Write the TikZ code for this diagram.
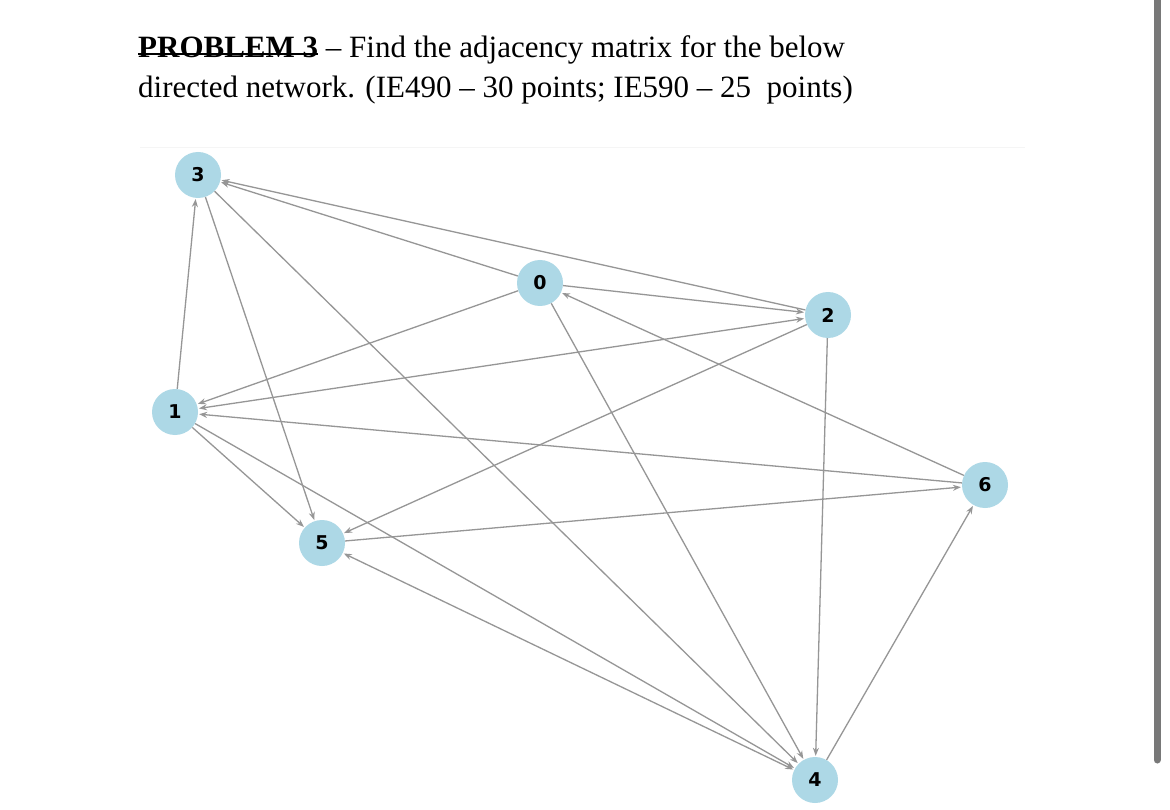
\documentclass[tikz,border=0pt]{standalone}
\usepackage{fontspec}
\setmainfont{Liberation Serif}
\newfontfamily\nodefont{DejaVu Sans}
\usetikzlibrary{arrows.meta}
\definecolor{nodeblue}{RGB}{173,216,230}
\definecolor{edgegray}{RGB}{150,150,150}
\definecolor{bargray}{RGB}{120,120,120}
\begin{document}
\begin{tikzpicture}[x=1pt,y=-1pt,
  vert/.style={circle,fill=nodeblue,minimum size=46pt,inner sep=0pt,font=\nodefont\bfseries\fontsize{19}{19}\selectfont},
  edge/.style={draw=edgegray,line width=1.3pt,-{Stealth[length=8pt,width=6pt]},shorten >=1pt},
  bedge/.style={edge,{Stealth[length=8pt,width=6pt]}-{Stealth[length=8pt,width=6pt]},shorten <=1pt}]
\useasboundingbox (0,0) rectangle (1170,810);
\fill[white] (0,0) rectangle (1170,810);
\draw[line width=7pt,line cap=round,draw=bargray] (1157,0) -- (1157,760);
\draw[line width=0.6pt,black!4] (140,147) -- (1025,147);
\node[anchor=base west,inner sep=0pt,font=\fontsize{31}{40}\selectfont] (t1) at (138,58) {\textbf{PROBLEM 3} – Find the adjacency matrix for the below};
\node[anchor=base west,inner sep=0pt,font=\fontsize{31}{40}\selectfont\bfseries] (u1) at (138,58) {\phantom{PROBLEM 3}};
\draw[line width=1.5pt] ([yshift=4pt]u1.base west) -- ([yshift=4pt]u1.base east);
\node[anchor=base west,inner sep=0pt,font=\fontsize{31}{40}\selectfont] (t2) at (138,98) {directed network. (IE490 – 30 points; IE590 – 25\ \ points)};
\node[vert] (n3) at (198,175) {3};
\node[vert] (n0) at (540,283) {0};
\node[vert] (n2) at (828,315) {2};
\node[vert] (n1) at (175,412) {1};
\node[vert] (n6) at (985,485) {6};
\node[vert] (n5) at (322,543) {5};
\node[vert] (n4) at (815,780) {4};
\draw[edge] (n0) -- (n3);
\draw[edge] (n2) -- (n3);
\draw[edge] (n1) -- (n3);
\draw[edge] (n3) -- (n5);
\draw[edge] (n3) -- (n4);
\draw[edge] (n0) -- (n1);
\draw[edge] (n0) -- (n2);
\draw[edge] (n0) -- (n4);
\draw[bedge] (n1) -- (n2);
\draw[edge] (n6) -- (n0);
\draw[edge] (n2) -- (n5);
\draw[edge] (n2) -- (n4);
\draw[edge] (n6) -- (n1);
\draw[edge] (n5) -- (n6);
\draw[edge] (n1) -- (n5);
\draw[edge] (n1) -- (n4);
\draw[bedge] (n4) -- (n5);
\draw[edge] (n4) -- (n6);
\end{tikzpicture}
\end{document}
